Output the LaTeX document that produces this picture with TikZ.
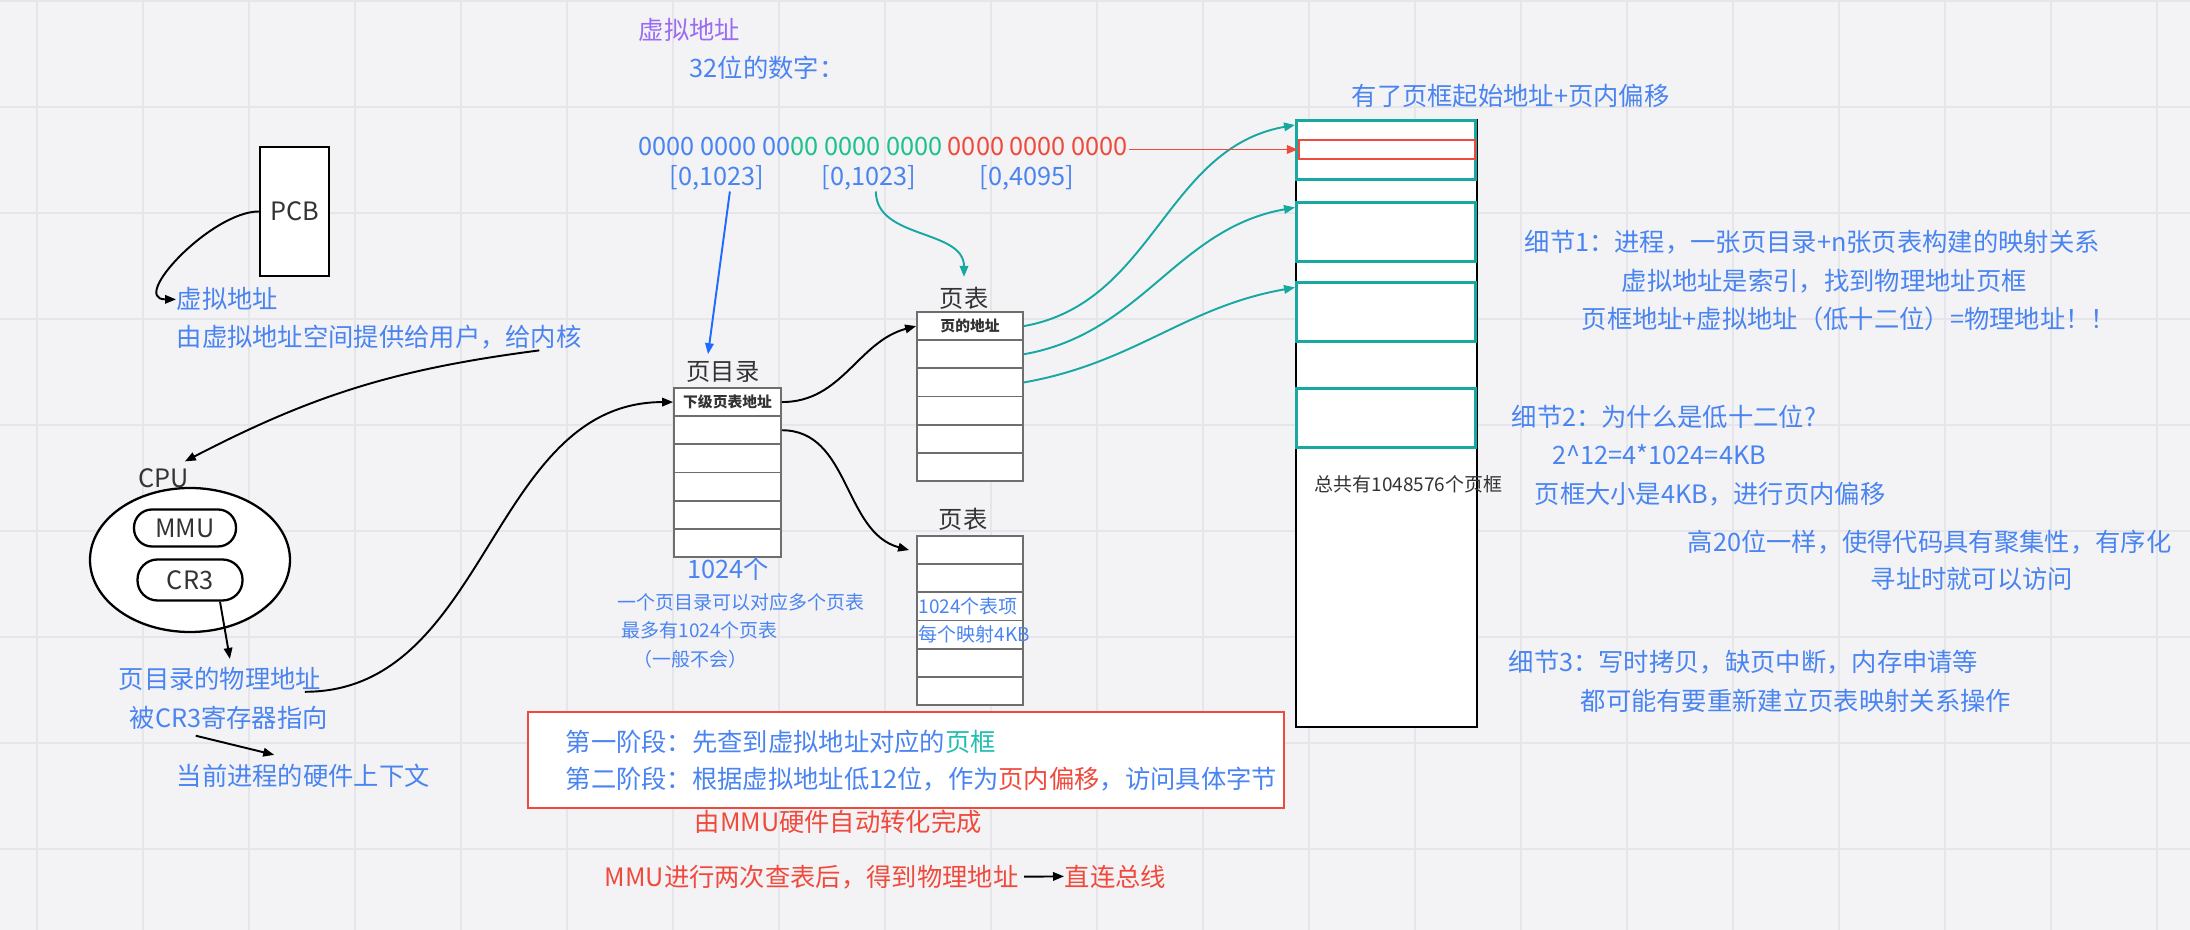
\documentclass[tikz,border=0pt]{standalone}
\usepackage{fontspec}
\setmainfont{Noto Sans CJK SC}
\usetikzlibrary{arrows.meta,shapes.geometric}

\definecolor{bgcol}{HTML}{F3F3F6}
\definecolor{gridcol}{HTML}{E6E6EA}
\definecolor{vblue}{HTML}{4A84F0}
\definecolor{vpurple}{HTML}{9B6CF2}
\definecolor{vgreen}{HTML}{1EC08C}
\definecolor{vred}{HTML}{F04A3C}
\definecolor{vteal}{HTML}{17A9A1}
\definecolor{vcyan}{HTML}{22BDB0}
\definecolor{arrowblue}{HTML}{1F6BFF}
\definecolor{darktext}{HTML}{333333}
\definecolor{cellgray}{HTML}{6E6E6E}

\def\rowh{28.17}
\def\fsmain{\fontsize{7.2}{8.6}\selectfont}
\def\fssmall{\fontsize{5.4}{6.5}\selectfont}
\def\fstiny{\fontsize{4.2}{5}\selectfont}

\begin{document}
\begin{tikzpicture}[x=0.1mm,y=-0.1mm,>={Triangle[length=1.1mm,width=0.85mm]}]
    \tikzstyle{every node}=[inner sep=0pt]
    \tikzstyle{txt}=[anchor=base west,font=\fsmain,text=vblue]
    \tikzstyle{small txt}=[txt,font=\fssmall]
    \tikzstyle{tbl title}=[anchor=base,font=\fontsize{6.9}{8}\selectfont,text=darktext]
    \tikzstyle{cell}=[rectangle,draw=cellgray,line width=0.5pt,fill=white,minimum height=2.817mm,font=\bfseries\fstiny,text=darktext]
    \tikzstyle{frame}=[rectangle,draw=vteal,line width=0.85pt,fill=white,minimum width=17.9mm,minimum height=5.9mm]
    \tikzstyle{reg}=[rectangle,draw=black,line width=0.65pt,rounded corners=1.8mm,font=\fsmain,text=darktext]
    \tikzstyle{link}=[->,line width=0.55pt,black]
    \tikzstyle{teal link}=[link,vteal]

    % Background with the grid
    \useasboundingbox (0,0) rectangle (2190,930);
    \fill[bgcol] (0,0) rectangle (2190,930);
    \foreach \x in {37,143,...,2157}
        \draw[gridcol,line width=0.25mm] (\x,0) -- (\x,930);
    \foreach \y in {1,107,...,849}
        \draw[gridcol,line width=0.25mm] (0,\y) -- (2190,\y);

    % PCB and the CPU
    \node[draw=black,line width=0.65pt,fill=white,minimum width=6.9mm,minimum height=12.9mm,font=\fsmain,text=darktext] (pcb) at (294.5,211.5) {PCB};
    \node[txt] (t-va) at (176,309) {虚拟地址};
    \node[txt] (t-kernel) at (176,347) {由虚拟地址空间提供给用户，给内核};
    \node[txt,text=darktext] (t-cpu) at (138,488) {CPU};
    \node[ellipse,draw=black,line width=0.65pt,fill=white,minimum width=20mm,minimum height=14.4mm] (cpu) at (190,560) {};
    \node[reg,minimum width=10.2mm,minimum height=3.7mm] (mmu) at (185,528) {MMU};
    \node[reg,minimum width=10.5mm,minimum height=4.1mm,rounded corners=2mm] (cr3) at (190,580) {CR3};
    \node[txt] (t-pd) at (118,689) {页目录的物理地址};
    \node[txt] (t-cr3ptr) at (129,728) {被CR3寄存器指向};
    \node[txt] (t-ctx) at (176,786) {当前进程的硬件上下文};

    % The virtual address
    \node[txt,text=vpurple] (t-vaddr) at (638,40) {虚拟地址};
    \node[txt] (t-32) at (689,78) {32位的数字：};
    \node[txt] (bin) at (638,156) {0000 0000 00\textcolor{vgreen}{00 0000 0000} \textcolor{vred}{0000 0000 0000}};
    \node[txt] (b1) at (669,186) {[0,1023]};
    \node[txt] (b2) at (821,186) {[0,1023]};
    \node[txt] (b3) at (979,186) {[0,4095]};

    % Page directory
    \node[tbl title] (t-dir) at (723,381) {页目录};
    \node[cell,minimum width=10.7mm] (dir-1) at (727.5,{388+0.5*\rowh}) {下级页表地址};
    \foreach \i in {2,...,6}
        \node[cell,minimum width=10.7mm] (dir-\i) at (727.5,{388+(\i-0.5)*\rowh}) {};
    \node[txt] (t-1024) at (687,579) {1024个};
    \node[small txt] (t-note1) at (617,610) {一个页目录可以对应多个页表};
    \node[small txt] (t-note2) at (621,638) {最多有1024个页表};
    \node[small txt] (t-note3) at (633,667) {（一般不会）};

    % Page tables
    \node[tbl title] (t-pt1) at (964,308) {页表};
    \node[cell,minimum width=10.6mm] (pt-1) at (970,{312+0.5*\rowh}) {页的地址};
    \foreach \i in {2,...,6}
        \node[cell,minimum width=10.6mm] (pt-\i) at (970,{312+(\i-0.5)*\rowh}) {};
    \node[tbl title] (t-pt2) at (963,529) {页表};
    \foreach \i in {1,...,6}
        \node[cell,minimum width=10.6mm] (pq-\i) at (970,{536+(\i-0.5)*\rowh}) {};
    \node[small txt] (t-items) at (918,614) {1024个表项};
    \node[small txt] (t-4kb) at (918,642) {每个映射4KB};

    % Physical memory with its page frames
    \node[rectangle,draw=black,line width=0.8pt,fill=white,minimum width=18.1mm,minimum height=60.7mm] (mem) at (1386.5,423.5) {};
    \foreach \i/\y in {1/150,2/232.5,3/312.5,4/418}
        \node[frame] (fr-\i) at (1386,\y) {};
    \node[rectangle,draw=vred,line width=0.7pt,minimum width=17.6mm,minimum height=1.9mm] (fr-r) at (1387,149.5) {};
    \node[small txt,text=darktext] (t-total) at (1314,492) {总共有1048576个页框};
    \node[txt] (t-offset) at (1351,106) {有了页框起始地址+页内偏移};

    % Notes on the right
    \node[txt] (n1a) at (1524,252) {细节1：进程，一张页目录+n张页表构建的映射关系};
    \node[txt] (n1b) at (1621,291) {虚拟地址是索引，找到物理地址页框};
    \node[txt] (n1c) at (1581,329) {页框地址+虚拟地址（低十二位）=物理地址！！};
    \node[txt] (n2a) at (1511,427) {细节2：为什么是低十二位?};
    \node[txt] (n2b) at (1552,465) {2\textasciicircum12=4*1024=4KB};
    \node[txt] (n2c) at (1534,504) {页框大小是4KB，进行页内偏移};
    \node[txt] (n2d) at (1687,552) {高20位一样，使得代码具有聚集性，有序化};
    \node[txt] (n2e) at (1870,589) {寻址时就可以访问};
    \node[txt] (n3a) at (1508,672) {细节3：写时拷贝，缺页中断，内存申请等};
    \node[txt] (n3b) at (1580,711) {都可能有要重新建立页表映射关系操作};

    % The two stages
    \node[rectangle,draw=vred,line width=0.7pt,fill=white,minimum width=75.6mm,minimum height=9.6mm] (stage) at (906,760) {};
    \node[txt] (s1) at (565,752) {第一阶段：先查到虚拟地址对应的\textcolor{vcyan}{页框}};
    \node[txt] (s2) at (565,789) {第二阶段：根据虚拟地址低12位，作为\textcolor{vred}{页内偏移}，访问具体字节};
    \node[txt,text=vred] (t-auto) at (694,832) {由MMU硬件自动转化完成};
    \node[txt,text=vred] (t-mmu) at (604,886) {MMU进行两次查表后，得到物理地址};
    \node[txt,text=vred] (t-bus) at (1064,886) {直连总线};

    % Connect the left part
    \draw[link] (pcb.west) to[out=180,in=180] (t-va.west);
    \draw[link] ([xshift=-4.3mm]t-kernel.south east) to[bend right=10] ([xshift=-0.5mm,yshift=0.7mm]t-cpu.north east);
    \draw[link] ([xshift=3mm]cr3.south) -- ([xshift=1mm,yshift=0.8mm]t-pd.north);
    \draw[link] ([xshift=-3.3mm,yshift=-0.5mm]t-cr3ptr.south) -- ([xshift=-2.9mm,yshift=0.9mm]t-ctx.north);
    \draw[link] ([xshift=-1.7mm]t-pd.south east) to[out=0,in=180] (dir-1.west);

    % Connect the tables
    \draw[link] (dir-1.east) to[out=0,in=195] (pt-1.west);
    \draw[link] (dir-2.east) to[out=0,in=165] ([xshift=-0.7mm]pq-1.west);
    \draw[->,line width=0.55pt,arrowblue] ([xshift=1.3mm]b1.south) -- ([xshift=-1.5mm,yshift=0.7mm]t-dir.north);
    \draw[teal link] ([xshift=0.7mm]b2.south) to[out=-90,in=90] ([yshift=1mm]t-pt1.north);
    \foreach \i in {1,2,3}
        \draw[teal link] (pt-\i.east) to[out=10,in=190] ([yshift=-0.6mm]fr-\i.north west);
    \draw[link,vred] (bin.east |- fr-r.west) -- (fr-r.west);
    \draw[link,shorten <=0.5mm] (t-mmu.east) -- (t-bus.west);
\end{tikzpicture}
\end{document}
